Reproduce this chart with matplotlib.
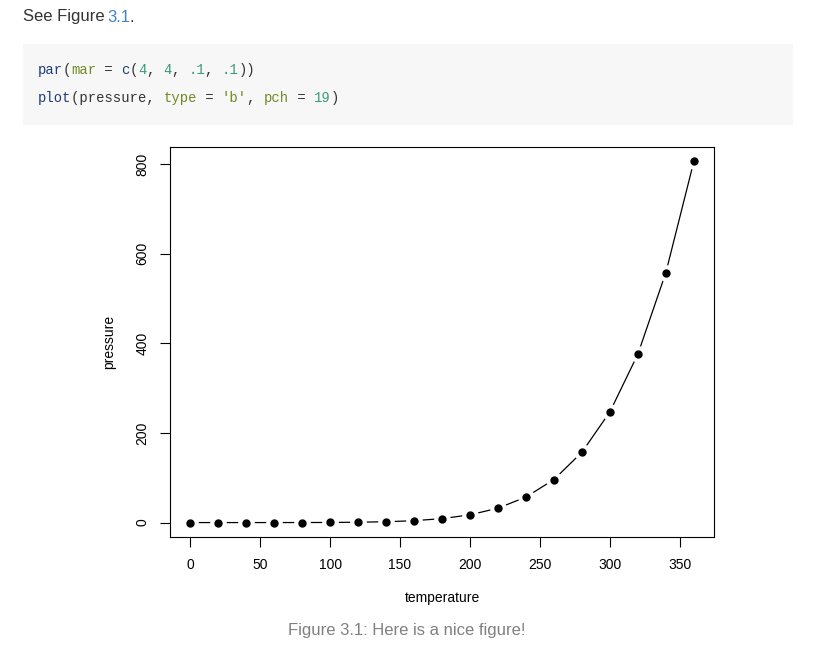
import numpy as np
import matplotlib.pyplot as plt
from matplotlib.patches import Rectangle

plt.rcParams['font.family'] = ['Liberation Sans', 'DejaVu Sans']

# R's built-in pressure dataset
temperature = [0, 20, 40, 60, 80, 100, 120, 140, 160, 180,
               200, 220, 240, 260, 280, 300, 320, 340, 360]
pressure = [0.0002, 0.0012, 0.0060, 0.0300, 0.0900, 0.2700, 0.7500, 1.8500,
            4.2000, 8.8000, 17.3000, 32.1000, 57.0000, 96.0000, 157.0000,
            247.0000, 376.0000, 558.0000, 806.0000]
xticks = [0, 50, 100, 150, 200, 250, 300, 350]
yticks = [0, 200, 400, 600, 800]

W, H = 822, 654
fig = plt.figure(figsize=(W / 100, H / 100), dpi=100)

def fx(px): return px / W
def fy(py): return 1 - py / H

# page text
fig.text(fx(23), fy(17), 'See Figure ', fontsize=12, color='#333333', va='center')
fig.text(fx(107), fy(17), '3.1', fontsize=12, color='#4183c4', va='center')
fig.text(fx(129), fy(17), '.', fontsize=12, color='#333333', va='center')

# code block
fig.patches.append(Rectangle((fx(23), fy(125)), fx(770), 81 / H, transform=fig.transFigure,
                             facecolor='#f7f7f7', edgecolor='none', zorder=0))
navy, olive, teal, dark = '#1f3d7a', '#6f8a24', '#3a9a7a', '#333333'
lines = [
    [('par', navy), ('(', dark), ('mar', olive), (' = ', dark), ('c', navy), ('(', dark),
     ('4', teal), (', ', dark), ('4', teal), (', ', dark), ('.1', teal), (', ', dark),
     ('.1', teal), ('))', dark)],
    [('plot', navy), ('(pressure, ', dark), ('type', olive), (' = ', dark), ("'b'", olive),
     (', ', dark), ('pch', olive), (' = ', dark), ('19', teal), (')', dark)],
]
cw = 8.35
for row, ypx in zip(lines, [70, 98]):
    x = 38
    for txt, col in row:
        fig.text(fx(x), fy(ypx), txt, fontsize=10, family='Liberation Mono', color=col, va='center')
        x += cw * len(txt)

# plot
ax = fig.add_axes([fx(170), fy(537), fx(544), 390 / H])
ax.plot(temperature, pressure, color='black', lw=0.9, zorder=1)
ax.plot(temperature, pressure, 'o', color='white', ms=11, mec='white', zorder=2)
ax.plot(temperature, pressure, 'o', color='black', ms=5, zorder=3)
ax.set_xlim(-14.4, 374.4)
ax.set_ylim(-32.2, 838.2)
ax.set_xticks(xticks)
ax.set_yticks(yticks)
ax.set_xticklabels([str(t) for t in xticks], fontsize=10)
ax.set_yticklabels([str(t) for t in yticks], fontsize=10, rotation=90, va='center')
ax.tick_params(length=7, width=0.8, pad=8)
for s in ax.spines.values():
    s.set_linewidth(0.8)
ax.set_xlabel('temperature', fontsize=10, labelpad=14)
ax.set_ylabel('pressure', fontsize=10, labelpad=14)

fig.text(fx(407), fy(630), 'Figure 3.1: Here is a nice figure!', fontsize=12,
         color='#808080', ha='center', va='center')

fig.savefig('out.png', dpi=100)
